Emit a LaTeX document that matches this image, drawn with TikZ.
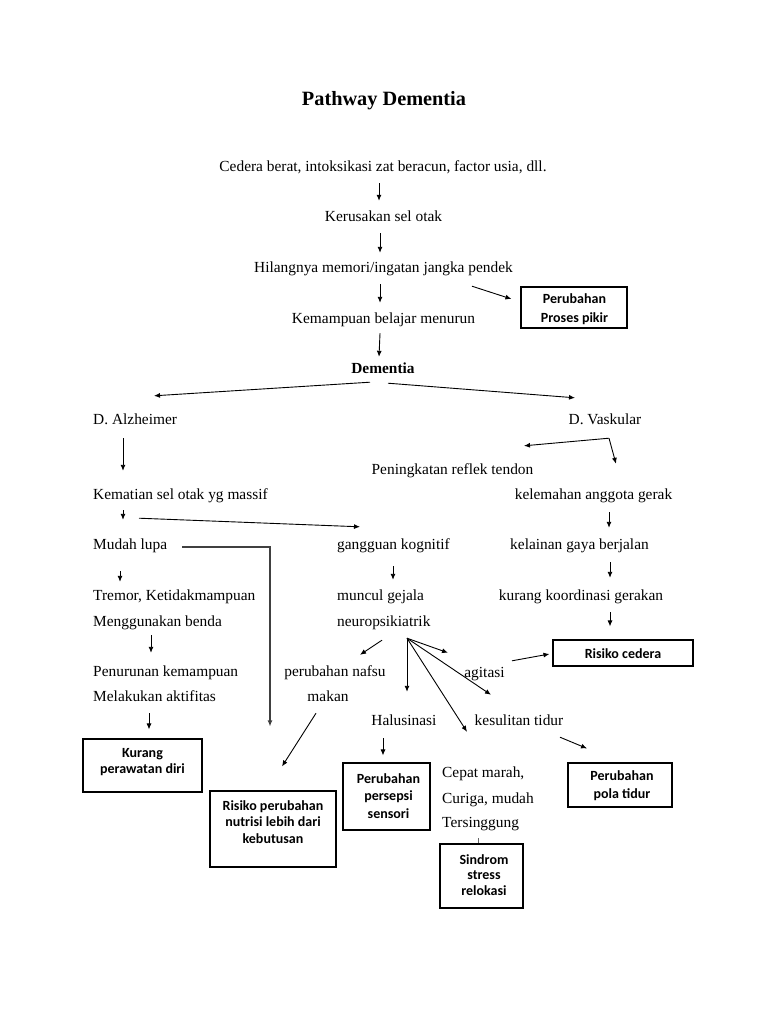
\documentclass[tikz,border=0pt]{standalone}
\usepackage{fontspec}
\setmainfont{Liberation Serif}
\newfontfamily\boxfont{Carlito}
\usetikzlibrary{arrows.meta}
\begin{document}
\begin{tikzpicture}[x=1pt,y=-1pt,
  txt/.style={inner sep=0pt, font=\fontsize{15.4}{18}\selectfont, text height=13pt, text depth=1pt},
  ltxt/.style={txt, anchor=west},
  arr/.style={-{Latex[length=6pt,width=5pt]}, line width=0.9pt},
  gline/.style={draw=black!75, line width=1.3pt},
  box/.style={draw, line width=1.1pt, inner sep=0pt},
  btxt/.style={inner sep=0pt, align=center, font=\boxfont\bfseries\fontsize{14}{#1}\selectfont},
  btxt/.default=17]
\useasboundingbox[fill=white] (0,0) rectangle (768,1024);

% ---------- texts ----------
\node[txt, font=\bfseries\fontsize{20.3}{24}\selectfont] (title) at (384,100) {Pathway Dementia};
\node[txt] (cedera) at (383,166) {Cedera berat, intoksikasi zat beracun, factor usia, dll.};
\node[txt] (kerusakan) at (383.5,216) {Kerusakan sel otak};
\node[txt] (hilang) at (383.5,266) {Hilangnya memori/ingatan jangka pendek};
\node[txt] (kemampuan) at (383.5,317) {Kemampuan belajar menurun};
\node[txt, font=\bfseries\fontsize{15.4}{18}\selectfont] (dementia) at (383,367) {Dementia};

\node[ltxt] (alz) at (93,418) {D. Alzheimer};
\node[txt] (vask) at (605,418) {D. Vaskular};
\node[txt] (pening) at (452.5,468) {Peningkatan reflek tendon};
\node[ltxt] (kematian) at (93,493) {Kematian sel otak yg massif};
\node[txt] (kelemahan) at (593.5,493) {kelemahan anggota gerak};
\node[ltxt] (mudah) at (93,543) {Mudah lupa};
\node[ltxt] (gangguan) at (337,543) {gangguan kognitif};
\node[txt] (kelainan) at (579.5,543) {kelainan gaya berjalan};
\node[ltxt] (tremor) at (93,594) {Tremor, Ketidakmampuan};
\node[ltxt] (meng) at (93,620) {Menggunakan benda};
\node[ltxt] (muncul) at (337,594) {muncul gejala};
\node[ltxt] (neuro) at (337,620) {neuropsikiatrik};
\node[txt] (kurang) at (581,594) {kurang koordinasi gerakan};
\node[ltxt] (penurunan) at (93,670) {Penurunan kemampuan};
\node[ltxt] (melakukan) at (93,695) {Melakukan aktifitas};
\node[txt] (nafsu) at (335,670) {perubahan nafsu};
\node[txt] (makan) at (328,695) {makan};
\node[txt] (agitasi) at (484.5,671) {agitasi};
\node[txt] (halu) at (404,719) {Halusinasi};
\node[txt] (kesulitan) at (519,719) {kesulitan tidur};
\node[ltxt] (cepat) at (442,771) {Cepat marah,};
\node[ltxt] (curiga) at (442,797) {Curiga, mudah};
\node[ltxt] (ters) at (442,821) {Tersinggung};

% ---------- boxes ----------
\node[box, minimum width=106pt, minimum height=41pt] (boxP) at (574,307.5) {};
\node[btxt=19] at (574.5,309) {Perubahan\\Proses pikir};
\node[box, minimum width=140pt, minimum height=26pt] (boxC) at (623,653) {};
\node[btxt] at (623,654) {Risiko cedera};
\node[box, minimum width=119pt, minimum height=53pt] (boxK) at (142.5,765.5) {};
\node[btxt=16] at (142.5,762.5) {Kurang\\perawatan diri};
\node[box, minimum width=126pt, minimum height=76pt] (boxN) at (273,829) {};
\node[btxt=16.5] at (273,822) {Risiko perubahan\\nutrisi lebih dari\\kebutusan};
\node[box, minimum width=87pt, minimum height=67pt] (boxS) at (386.5,796.5) {};
\node[btxt=17.5] at (388.5,796) {Perubahan\\persepsi\\sensori};
\node[box, minimum width=83pt, minimum height=64pt] (boxR) at (481.5,876) {};
\node[btxt=15.5] at (484,875) {Sindrom\\stress\\relokasi};
\node[box, minimum width=104pt, minimum height=44pt] (boxT) at (620,785) {};
\node[btxt=18] at (622,785.5) {Perubahan\\pola tidur};

% ---------- connectors ----------
\draw[arr] ([shift={(-4,10)}]cedera.south) -- ([shift={(-4.5,-8)}]kerusakan.north);
\draw[arr] ([shift={(-3.5,10)}]kerusakan.south) -- ([shift={(-3.5,-6)}]hilang.north);
\draw[arr] ([shift={(-3.5,11)}]hilang.south) -- ([shift={(-3.5,-7)}]kemampuan.north);
\draw[arr] ([shift={(-3.5,9)}]kemampuan.south) -- ([shift={(-4,-3)}]dementia.north);
\draw[arr] ([shift={(88.5,13)}]hilang.south) -- ([shift={(-9,-8.5)}]boxP.west);

\draw[arr] ([shift={(-13,8)}]dementia.south) -- ([shift={(61,-15)}]alz.north west);
\draw[arr] ([shift={(5,9)}]dementia.south) -- ([shift={(-30,-13)}]vask.north);

\draw[arr] ([shift={(30,13)}]alz.south west) -- ([shift={(30,-15)}]kematian.north west);
\draw[arr] ([shift={(4,13)}]vask.south) -- ([shift={(71.5,-15)}]pening.north);
\draw[arr] ([shift={(4,13)}]vask.south) -- ([shift={(22.5,-22)}]kelemahan.north);

\draw[arr] ([shift={(30,10)}]kematian.south west) -- ([shift={(30,-16)}]mudah.north west);
\draw[arr] ([shift={(46,18)}]kematian.south west) -- ([shift={(23,-9)}]gangguan.north west);
\draw[gline, -{Latex[length=6pt,width=5pt]}] ([shift={(89,4)}]mudah.west) -| ([shift={(-3,-64)}]boxN.north);
\draw[arr] ([shift={(27,21)}]mudah.south west) -- ([shift={(27,-5)}]tremor.north west);
\draw[arr] ([shift={(58,8)}]meng.south west) -- ([shift={(58,-10)}]penurunan.north west);
\draw[arr] ([shift={(56,11)}]melakukan.south west) -- ([shift={(6.5,-9)}]boxK.north);

\draw[arr] ([shift={(56,16)}]gangguan.south west) -- ([shift={(56,-7)}]muncul.north west);
\draw[arr] ([shift={(15.5,12)}]kelemahan.south) -- ([shift={(29.5,-8)}]kelainan.north);
\draw[arr] ([shift={(30.5,12)}]kelainan.south) -- ([shift={(29,-9)}]kurang.north);
\draw[arr] ([shift={(29,11)}]kurang.south) -- ([shift={(-13,-13)}]boxC.north);
\draw[arr] ([shift={(27.5,-3)}]agitasi.north) -- ([shift={(-3,1)}]boxC.west);

\draw[arr] ([shift={(45,13)}]neuro.south west) -- ([shift={(25,-8)}]nafsu.north);
\draw[arr] ([shift={(70,11)}]neuro.south west) -- ([shift={(-36.5,-11)}]agitasi.north);
\draw[arr] ([shift={(70,11)}]neuro.south west) -- ([shift={(3,-20)}]halu.north);
\draw[arr] ([shift={(70,11)}]neuro.south west) -- ([shift={(-28,-17)}]kesulitan.north);
\draw[arr] ([shift={(70,11)}]neuro.south west) -- ([shift={(25,-32)}]cepat.north west);

\draw[arr] ([shift={(-12,11)}]makan.south) -- ([shift={(9,-24)}]boxN.north);
\draw[arr] ([shift={(-21,12)}]halu.south) -- ([shift={(-3.5,-7)}]boxS.north);
\draw[line width=0.6pt, black!60] ([shift={(36,10)}]ters.south west) -- ([shift={(-3.5,0)}]boxR.north);
\draw[arr] ([shift={(41,11)}]kesulitan.south) -- ([shift={(-33,-14)}]boxT.north);
\end{tikzpicture}
\end{document}
